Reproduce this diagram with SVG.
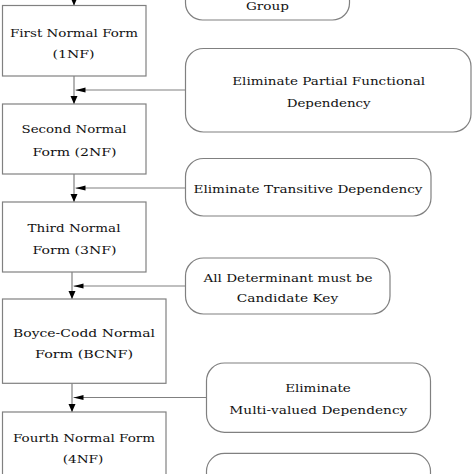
<svg xmlns="http://www.w3.org/2000/svg" width="474" height="474" viewBox="0 0 474 474">
<defs>
<style>
.box{fill:#fff;stroke:#808080;stroke-width:1.2}
.rbox{fill:#fff;stroke:#808080;stroke-width:1.2}
.ln{fill:none;stroke:#808080;stroke-width:1.2}
.t{font-family:"DejaVu Serif","Liberation Serif",serif;font-size:11.5px;fill:#111;text-anchor:middle}
</style>
<marker id="ad" markerUnits="userSpaceOnUse" markerWidth="8" markerHeight="8" viewBox="0 0 8 8" refX="8" refY="4" orient="auto">
<path d="M0,0.5 L8,4 L0,7.5 Z" fill="#000"/>
</marker>
<marker id="al" markerUnits="userSpaceOnUse" markerWidth="10" markerHeight="6" viewBox="0 0 10 6" refX="10" refY="3" orient="auto">
<path d="M0,0.5 L10,3 L0,5.5 Z" fill="#000"/>
</marker>
</defs>
<rect width="474" height="474" fill="#fff"/>
<g id="connectors">
<line class="ln" x1="74" y1="-2" x2="74" y2="5.5" marker-end="url(#ad)"/>
<line class="ln" x1="74" y1="76" x2="74" y2="104" marker-end="url(#ad)"/>
<line class="ln" x1="185.5" y1="90" x2="75.5" y2="90" marker-end="url(#al)"/>
<line class="ln" x1="74" y1="174" x2="74" y2="202" marker-end="url(#ad)"/>
<line class="ln" x1="185.5" y1="188" x2="75.5" y2="188" marker-end="url(#al)"/>
<line class="ln" x1="72" y1="272" x2="72" y2="299" marker-end="url(#ad)"/>
<line class="ln" x1="185.5" y1="286" x2="73.5" y2="286" marker-end="url(#al)"/>
<line class="ln" x1="72" y1="383" x2="72" y2="412" marker-end="url(#ad)"/>
<line class="ln" x1="206.5" y1="397.5" x2="73.5" y2="397.5" marker-end="url(#al)"/>
</g>
<g id="n-group">
<rect class="rbox" x="185.5" y="-40" width="164" height="60" rx="17"/>
<text class="t" x="267.5" y="9.5" textLength="43" lengthAdjust="spacingAndGlyphs">Group</text>
</g>
<g id="n-1nf">
<rect class="box" x="2.5" y="5.5" width="143.5" height="70.5"/>
<text class="t" x="74" y="37" textLength="128" lengthAdjust="spacingAndGlyphs">First Normal Form</text>
<text class="t" x="73.5" y="58" textLength="42" lengthAdjust="spacingAndGlyphs">(1NF)</text>
</g>
<g id="n-partial">
<rect class="rbox" x="185.5" y="48.5" width="285.5" height="83.5" rx="18"/>
<text class="t" x="328.7" y="85" textLength="193" lengthAdjust="spacingAndGlyphs">Eliminate Partial Functional</text>
<text class="t" x="328.7" y="106.7" textLength="84" lengthAdjust="spacingAndGlyphs">Dependency</text>
</g>
<g id="n-2nf">
<rect class="box" x="2.5" y="104" width="143.5" height="70"/>
<text class="t" x="74" y="133.3" textLength="105" lengthAdjust="spacingAndGlyphs">Second Normal</text>
<text class="t" x="74.5" y="156" textLength="84" lengthAdjust="spacingAndGlyphs">Form (2NF)</text>
</g>
<g id="n-transitive">
<rect class="rbox" x="185.5" y="158.5" width="245.5" height="57.5" rx="18"/>
<text class="t" x="308" y="193.3" textLength="229" lengthAdjust="spacingAndGlyphs">Eliminate Transitive Dependency</text>
</g>
<g id="n-3nf">
<rect class="box" x="2.5" y="202" width="143.5" height="70"/>
<text class="t" x="74" y="231.7" textLength="93" lengthAdjust="spacingAndGlyphs">Third Normal</text>
<text class="t" x="74.5" y="254" textLength="84" lengthAdjust="spacingAndGlyphs">Form (3NF)</text>
</g>
<g id="n-determinant">
<rect class="rbox" x="185.5" y="258" width="204.5" height="56" rx="18"/>
<text class="t" x="288" y="281.7" textLength="169" lengthAdjust="spacingAndGlyphs">All Determinant must be</text>
<text class="t" x="287.5" y="301.7" textLength="101.5" lengthAdjust="spacingAndGlyphs">Candidate Key</text>
</g>
<g id="n-bcnf">
<rect class="box" x="2.5" y="299" width="163.5" height="84.3"/>
<text class="t" x="84" y="336.7" textLength="142" lengthAdjust="spacingAndGlyphs">Boyce-Codd Normal</text>
<text class="t" x="84" y="358" textLength="98" lengthAdjust="spacingAndGlyphs">Form (BCNF)</text>
</g>
<g id="n-multi">
<rect class="rbox" x="206.5" y="363" width="224" height="69.3" rx="18"/>
<text class="t" x="318" y="392.3" textLength="65.7" lengthAdjust="spacingAndGlyphs">Eliminate</text>
<text class="t" x="318.3" y="414" textLength="178" lengthAdjust="spacingAndGlyphs">Multi-valued Dependency</text>
</g>
<g id="n-4nf">
<rect class="box" x="2.5" y="412" width="163.5" height="80"/>
<text class="t" x="84" y="441.7" textLength="142" lengthAdjust="spacingAndGlyphs">Fourth Normal Form</text>
<text class="t" x="83" y="463" textLength="40.7" lengthAdjust="spacingAndGlyphs">(4NF)</text>
</g>
<g id="n-bottom">
<rect class="rbox" x="206.5" y="453.3" width="224" height="70" rx="18"/>
</g>
</svg>
